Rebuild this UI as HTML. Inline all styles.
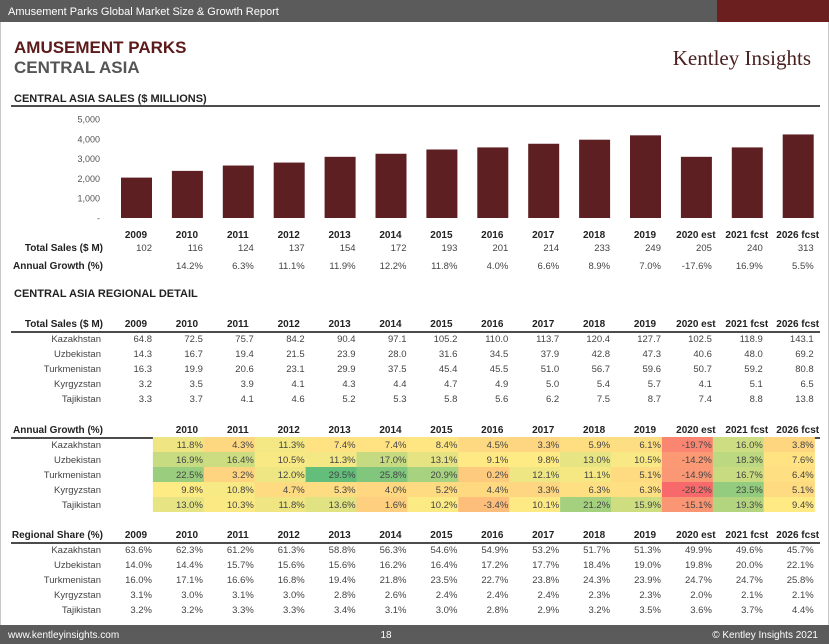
<!DOCTYPE html>
<html><head><meta charset="utf-8">
<style>
html,body{margin:0;padding:0;background:#fff}
svg{display:block;font-family:"Liberation Sans",Arial,sans-serif}
</style></head>
<body>
<svg id="s" width="829" height="644" viewBox="0 0 829 644" xmlns="http://www.w3.org/2000/svg">
<rect x="0" y="0" width="829" height="644" fill="#fff"/>
<line x1="0.5" y1="0" x2="0.5" y2="644" stroke="#c8c8c8"/>
<line x1="828.5" y1="0" x2="828.5" y2="644" stroke="#c8c8c8"/>
<g>
<rect x="0" y="0" width="829" height="22" fill="#5b5b5b"/>
<rect x="717" y="0" width="112" height="22" fill="#6b1f1f"/>
<text x="8" y="15" font-size="11" fill="#fff">Amusement Parks Global Market Size &amp; Growth Report</text>
</g>
<text x="14" y="53" font-size="17" font-weight="bold" fill="#5c1a1a">AMUSEMENT PARKS</text>
<text x="14" y="73" font-size="17" font-weight="bold" fill="#555">CENTRAL ASIA</text>
<text x="811" y="65" font-size="21" text-anchor="end" fill="#4a2020" font-family="Liberation Serif,serif">Kentley Insights</text>
<text x="14" y="102" font-size="11" font-weight="bold" fill="#222">CENTRAL ASIA SALES ($ MILLIONS)</text>
<line x1="11" y1="106" x2="820" y2="106" stroke="#111" stroke-width="1.5"/>
<text x="14" y="297" font-size="11" font-weight="bold" fill="#222">CENTRAL ASIA REGIONAL DETAIL</text>
<g id="chart"></g>
<g id="tables"></g>
<g>
<rect x="0" y="625" width="829" height="19" fill="#5b5b5b"/>
<text x="8" y="638" font-size="10" fill="#fff">www.kentleyinsights.com</text>
<text x="386" y="638" font-size="10" fill="#fff" text-anchor="middle">18</text>
<text x="818" y="638" font-size="10" fill="#fff" text-anchor="end">© Kentley Insights 2021</text>
</g>
</svg>
<script>
const years=["2009","2010","2011","2012","2013","2014","2015","2016","2017","2018","2019","2020 est","2021 fcst","2026 fcst"];
const barValues=[2040,2380,2650,2800,3090,3245,3460,3565,3750,3955,4175,3090,3565,4220];
const yTicks=[0,1000,2000,3000,4000,5000];
const yTickLabels=["-","1,000","2,000","3,000","4,000","5,000"];
const totalSales=["102","116","124","137","154","172","193","201","214","233","249","205","240","313"];
const annualGrowth=["","14.2%","6.3%","11.1%","11.9%","12.2%","11.8%","4.0%","6.6%","8.9%","7.0%","-17.6%","16.9%","5.5%"];
const countries=["Kazakhstan","Uzbekistan","Turkmenistan","Kyrgyzstan","Tajikistan"];
const salesKaz=["64.8","72.5","75.7","84.2","90.4","97.1","105.2","110.0","113.7","120.4","127.7","102.5","118.9","143.1"];
const salesUzb=["14.3","16.7","19.4","21.5","23.9","28.0","31.6","34.5","37.9","42.8","47.3","40.6","48.0","69.2"];
const salesTkm=["16.3","19.9","20.6","23.1","29.9","37.5","45.4","45.5","51.0","56.7","59.6","50.7","59.2","80.8"];
const salesKgz=["3.2","3.5","3.9","4.1","4.3","4.4","4.7","4.9","5.0","5.4","5.7","4.1","5.1","6.5"];
const salesTjk=["3.3","3.7","4.1","4.6","5.2","5.3","5.8","5.6","6.2","7.5","8.7","7.4","8.8","13.8"];
const growKaz=[11.8,4.3,11.3,7.4,7.4,8.4,4.5,3.3,5.9,6.1,-19.7,16.0,3.8];
const growUzb=[16.9,16.4,10.5,11.3,17.0,13.1,9.1,9.8,13.0,10.5,-14.2,18.3,7.6];
const growTkm=[22.5,3.2,12.0,29.5,25.8,20.9,0.2,12.1,11.1,5.1,-14.9,16.7,6.4];
const growKgz=[9.8,10.8,4.7,5.3,4.0,5.2,4.4,3.3,6.3,6.3,-28.2,23.5,5.1];
const growTjk=[13.0,10.3,11.8,13.6,1.6,10.2,-3.4,10.1,21.2,15.9,-15.1,19.3,9.4];
const shareKaz=["63.6%","62.3%","61.2%","61.3%","58.8%","56.3%","54.6%","54.9%","53.2%","51.7%","51.3%","49.9%","49.6%","45.7%"];
const shareUzb=["14.0%","14.4%","15.7%","15.6%","15.6%","16.2%","16.4%","17.2%","17.7%","18.4%","19.0%","19.8%","20.0%","22.1%"];
const shareTkm=["16.0%","17.1%","16.6%","16.8%","19.4%","21.8%","23.5%","22.7%","23.8%","24.3%","23.9%","24.7%","24.7%","25.8%"];
const shareKgz=["3.1%","3.0%","3.1%","3.0%","2.8%","2.6%","2.4%","2.4%","2.4%","2.3%","2.3%","2.0%","2.1%","2.1%"];
const shareTjk=["3.2%","3.2%","3.3%","3.3%","3.4%","3.1%","3.0%","2.8%","2.9%","3.2%","3.5%","3.6%","3.7%","4.4%"];

const NS="http://www.w3.org/2000/svg";
function mk(tag,attrs,parent,txt){const e=document.createElementNS(NS,tag);for(const k in attrs)e.setAttribute(k,attrs[k]);if(txt!==undefined)e.textContent=txt;parent.appendChild(e);return e;}
const yScale=v=>218-v/5000*99;
const colRight=i=>153+i*50.9;
const chart=document.getElementById('chart');
const tables=document.getElementById('tables');

yTicks.forEach((t,i)=>{
  const e=mk('text',{x:100,y:yScale(t)+3.5,'font-size':9,fill:'#555','text-anchor':'end'},chart,yTickLabels[i]);
  
  
});
barValues.forEach((v,i)=>{
  const r=mk('rect',{x:colRight(i)-32,y:yScale(v),width:31,height:218-yScale(v),fill:'#5e1f22'},chart);
  
  
});
years.forEach((y,i)=>{
  const e=mk('text',{x:colRight(i)-17,y:238,'font-size':10,'font-weight':'bold',fill:'#222','text-anchor':'middle'},chart,y);
  
  
});
function label(t,x,y,parent,bold){return mk('text',{x:x,y:y,'font-size':bold?10:9.5,'font-weight':bold?'bold':'normal',fill:bold?'#222':'#444','text-anchor':'end'},parent,t);}
const l1=label('Total Sales ($ M)',103,251,chart,true);


const l2=label('Annual Growth (%)',103,269,chart,true);


totalSales.forEach((t,i)=>{const e=label(t,colRight(i)-1,251,chart,false);});
annualGrowth.forEach((t,i)=>{if(!t)return;const e=label(t,colRight(i)-1,269,chart,false);});

function header(title,y,hdrYears,name){
  const g=mk('g',{},tables);
  
  
  label(title,103,y,g,true);
  hdrYears.forEach(([yr,i])=>{mk('text',{x:colRight(i)-17,y:y,'font-size':10,'font-weight':'bold',fill:'#222','text-anchor':'middle'},g,yr);});
  mk('line',{x1:11,y1:y+5,x2:820,y2:y+5,stroke:'#111','stroke-width':1.5},g);
  return g;
}
function textTable(title,y0,rows,name){
  const g=header(title,y0,years.map((y,i)=>[y,i]),name);
  rows.forEach((row,r)=>{
    const y=y0+15+r*15;
    label(countries[r],101,y,g,false);
    row.forEach((t,i)=>label(t,colRight(i)-1,y,g,false));
  });
}
textTable('Total Sales ($ M)',327,[salesKaz,salesUzb,salesTkm,salesKgz,salesTjk],'total-sales-table');

// heatmap
const growth=[growKaz,growUzb,growTkm,growKgz,growTjk];
const all=growth.flat().slice().sort((a,b)=>a-b);
const gmin=all[0],gmax=all[all.length-1];
const mid=all.length%2?all[(all.length-1)/2]:(all[all.length/2-1]+all[all.length/2])/2;
function lerp(a,b,t){return a.map((v,i)=>Math.round(v+(b[i]-v)*t));}
function color(v){
  const R=[248,105,107],Y=[255,235,132],G=[99,190,123];
  const c=v<mid?lerp(R,Y,(v-gmin)/(mid-gmin)):lerp(Y,G,(v-mid)/(gmax-mid));
  return 'rgb('+c.join(',')+')';
}
const hg=header('Annual Growth (%)',433,years.slice(1).map((y,i)=>[y,i+1]),'growth-heatmap');
growth.forEach((row,r)=>{
  const y=433+15+r*15;
  label(countries[r],101,y,hg,false);
  row.forEach((v,i)=>{
    const c=mk('rect',{x:colRight(i+1)-51,y:y-11,width:51.2,height:15,fill:color(v)},hg);
    
    
    mk('text',{x:colRight(i+1)-1,y:y,'font-size':9.5,fill:'#444','text-anchor':'end'},hg,v.toFixed(1)+'%');
  });
});
textTable('Regional Share (%)',538,[shareKaz,shareUzb,shareTkm,shareKgz,shareTjk],'regional-share-table');
</script>
</body></html>
